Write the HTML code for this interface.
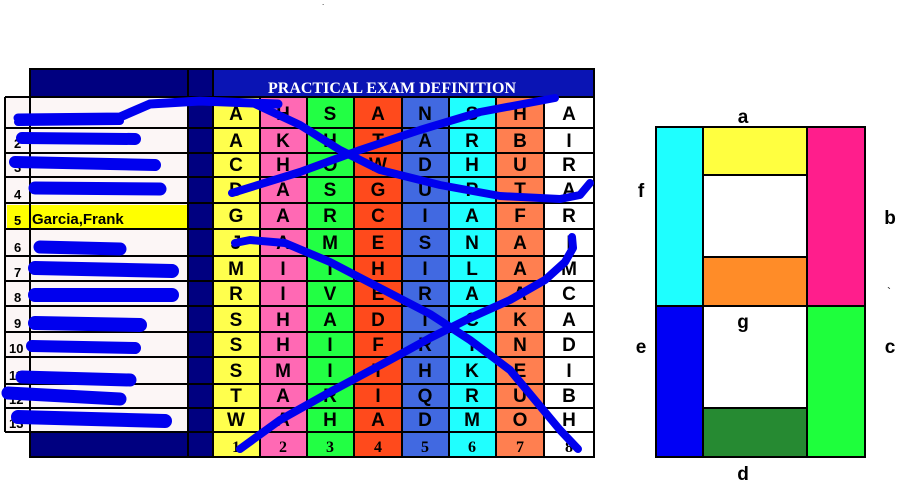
<!DOCTYPE html>
<html><head><meta charset="utf-8"><style>
html,body{margin:0;padding:0;background:#fff;}
svg{display:block;}
.l{font-family:"Liberation Sans",sans-serif;font-weight:bold;font-size:19px;text-anchor:middle;fill:#000;}
.n{font-family:"Liberation Sans",sans-serif;font-weight:bold;font-size:13px;fill:#000;}
.f{font-family:"Liberation Serif",serif;font-weight:bold;font-size:16px;text-anchor:middle;fill:#000;}
.s{font-family:"Liberation Sans",sans-serif;font-weight:bold;font-size:19px;text-anchor:middle;fill:#000;}
</style></head><body>
<svg width="904" height="497" xmlns="http://www.w3.org/2000/svg">
<rect width="904" height="497" fill="#fff"/>
<rect x="30" y="69" width="158" height="28" fill="#000080"/>
<rect x="188" y="69" width="25" height="28" fill="#000080"/>
<rect x="213" y="69" width="381" height="28" fill="#0a14b4"/>
<text x="392" y="93" font-family="Liberation Serif,serif" font-weight="bold" font-size="16" fill="#fff" text-anchor="middle">PRACTICAL EXAM DEFINITION</text>
<rect x="5" y="97" width="183" height="335" fill="#fcf6f6"/>
<rect x="7" y="205" width="181" height="24" fill="#ffff00"/>
<rect x="188" y="97" width="25" height="360" fill="#000080"/>
<rect x="30" y="432" width="158" height="25" fill="#000080"/>
<g>
<rect x="213" y="97" width="47" height="360" fill="#ffff4d"/>
<rect x="260" y="97" width="47" height="360" fill="#ff69b4"/>
<rect x="307" y="97" width="47" height="360" fill="#22ff44"/>
<rect x="354" y="97" width="48" height="360" fill="#ff4a1c"/>
<rect x="402" y="97" width="47" height="360" fill="#4169e1"/>
<rect x="449" y="97" width="47" height="360" fill="#20ffff"/>
<rect x="496" y="97" width="48" height="360" fill="#ff7f50"/>
<rect x="544" y="97" width="50" height="360" fill="#ffffff"/>
</g>
<g stroke="#000" stroke-width="2" fill="none">
<rect x="30" y="69" width="564" height="388"/>
<line x1="188" y1="69" x2="188" y2="457"/>
<line x1="213" y1="69" x2="213" y2="457"/>
<line x1="5" y1="97" x2="594" y2="97"/>
<line x1="5" y1="97" x2="5" y2="432"/>
<line x1="30" y1="97" x2="30" y2="432"/>
<line x1="260" y1="97" x2="260" y2="457"/>
<line x1="307" y1="97" x2="307" y2="457"/>
<line x1="354" y1="97" x2="354" y2="457"/>
<line x1="402" y1="97" x2="402" y2="457"/>
<line x1="449" y1="97" x2="449" y2="457"/>
<line x1="496" y1="97" x2="496" y2="457"/>
<line x1="544" y1="97" x2="544" y2="457"/>
<path d="M5 128H594M5 153H594M5 177H594M5 203H594M5 229H594M5 256H594M5 281H594M5 306H594M5 332H594M5 357H594M5 384H594M5 408H594M5 432H594"/>
</g>
<g class="n">
<text x="14" y="148">2</text><text x="14" y="172">3</text><text x="14" y="199">4</text>
<text x="14" y="225">5</text><text x="14" y="252">6</text><text x="14" y="277">7</text>
<text x="14" y="302">8</text><text x="14" y="328">9</text><text x="9" y="353">10</text>
<text x="9" y="380">11</text><text x="9" y="404">12</text><text x="9" y="428">13</text>
</g>
<text x="32" y="224" font-family="Liberation Sans,sans-serif" font-weight="bold" font-size="15">Garcia,Frank</text>
<g class="l">
<text x="236" y="120">A</text><text x="283" y="120">H</text><text x="330" y="120">S</text><text x="378" y="120">A</text><text x="425" y="120">N</text><text x="472" y="120">S</text><text x="520" y="120">H</text><text x="569" y="120">A</text>
<text x="236" y="147">A</text><text x="283" y="147">K</text><text x="330" y="147">H</text><text x="378" y="147">T</text><text x="425" y="147">A</text><text x="472" y="147">R</text><text x="520" y="147">B</text><text x="569" y="147">I</text>
<text x="236" y="171">C</text><text x="283" y="171">H</text><text x="330" y="171">O</text><text x="378" y="171">W</text><text x="425" y="171">D</text><text x="472" y="171">H</text><text x="520" y="171">U</text><text x="569" y="171">R</text>
<text x="236" y="196">D</text><text x="283" y="196">A</text><text x="330" y="196">S</text><text x="378" y="196">G</text><text x="425" y="196">U</text><text x="472" y="196">P</text><text x="520" y="196">T</text><text x="569" y="196">A</text>
<text x="236" y="222">G</text><text x="283" y="222">A</text><text x="330" y="222">R</text><text x="378" y="222">C</text><text x="425" y="222">I</text><text x="472" y="222">A</text><text x="520" y="222">F</text><text x="569" y="222">R</text>
<text x="236" y="249">J</text><text x="283" y="249">A</text><text x="330" y="249">M</text><text x="378" y="249">E</text><text x="425" y="249">S</text><text x="472" y="249">N</text><text x="520" y="249">A</text><text x="569" y="249">I</text>
<text x="236" y="275">M</text><text x="283" y="275">I</text><text x="330" y="275">T</text><text x="378" y="275">H</text><text x="425" y="275">I</text><text x="472" y="275">L</text><text x="520" y="275">A</text><text x="569" y="275">M</text>
<text x="236" y="300">R</text><text x="283" y="300">I</text><text x="330" y="300">V</text><text x="378" y="300">E</text><text x="425" y="300">R</text><text x="472" y="300">A</text><text x="520" y="300">A</text><text x="569" y="300">C</text>
<text x="236" y="326">S</text><text x="283" y="326">H</text><text x="330" y="326">A</text><text x="378" y="326">D</text><text x="425" y="326">I</text><text x="472" y="326">C</text><text x="520" y="326">K</text><text x="569" y="326">A</text>
<text x="236" y="351">S</text><text x="283" y="351">H</text><text x="330" y="351">I</text><text x="378" y="351">F</text><text x="425" y="351">R</text><text x="472" y="351">I</text><text x="520" y="351">N</text><text x="569" y="351">D</text>
<text x="236" y="377">S</text><text x="283" y="377">M</text><text x="330" y="377">I</text><text x="378" y="377">T</text><text x="425" y="377">H</text><text x="472" y="377">K</text><text x="520" y="377">E</text><text x="569" y="377">I</text>
<text x="236" y="402">T</text><text x="283" y="402">A</text><text x="330" y="402">R</text><text x="378" y="402">I</text><text x="425" y="402">Q</text><text x="472" y="402">R</text><text x="520" y="402">U</text><text x="569" y="402">B</text>
<text x="236" y="426">W</text><text x="283" y="426">A</text><text x="330" y="426">H</text><text x="378" y="426">A</text><text x="425" y="426">D</text><text x="472" y="426">M</text><text x="520" y="426">O</text><text x="569" y="426">H</text>
</g>
<g class="f">
<text x="236" y="452">1</text><text x="283" y="452">2</text><text x="330" y="452">3</text><text x="378" y="452">4</text><text x="425" y="452">5</text><text x="472" y="452">6</text><text x="520" y="452">7</text><text x="569" y="452">8</text>
</g>
<g stroke="#0000ee" stroke-linecap="round" stroke-linejoin="round" fill="none">
<path stroke-width="9" d="M18 118 L120 117 L150 104 L200 101 L278 104"/>
<path stroke-width="8" d="M18 122 L120 121"/>
<path stroke-width="8" d="M255 104 L300 125 L340 150 L380 170 L440 185 L500 196 L560 199 L580 195 L590 183"/>
<path stroke-width="8" d="M232 193 L300 172 L360 150 L420 130 L480 112 L555 98"/>
<path stroke-width="8" d="M235 243 L250 240 L285 243 L330 262 L380 288 L430 314 L470 340 L510 370 L535 400 L560 430 L578 449"/>
<path stroke-width="8" d="M240 449 L280 420 L330 392 L390 360 L430 338 L470 318 L510 300 L545 280 L565 262 L573 248 L572 237"/>
<path stroke-width="12" d="M22 138 L135 139"/>
<path stroke-width="12" d="M15 162 L155 165"/>
<path stroke-width="13" d="M35 188 L160 189"/>
<path stroke-width="13" d="M40 247 L120 249"/>
<path stroke-width="14" d="M35 268 L172 271"/>
<path stroke-width="14" d="M35 295 L172 295"/>
<path stroke-width="14" d="M35 323 L140 325"/>
<path stroke-width="12" d="M32 346 L135 348"/>
<path stroke-width="13" d="M22 377 L130 380"/>
<path stroke-width="13" d="M8 393 L120 399"/>
<path stroke-width="14" d="M18 417 L165 421"/>
</g>
<g stroke="#000" stroke-width="2">
<rect x="656" y="127" width="47" height="179" fill="#1effff"/>
<rect x="656" y="306" width="47" height="151" fill="#0000f5"/>
<rect x="807" y="127" width="58" height="179" fill="#ff1e8c"/>
<rect x="807" y="306" width="58" height="151" fill="#1eff3c"/>
<rect x="703" y="127" width="104" height="48" fill="#ffff40"/>
<rect x="703" y="175" width="104" height="82" fill="#fff"/>
<rect x="703" y="257" width="104" height="49" fill="#ff8c28"/>
<rect x="703" y="306" width="104" height="102" fill="#fff"/>
<rect x="703" y="408" width="104" height="49" fill="#268a32"/>
</g>
<g class="s">
<text x="743" y="123">a</text><text x="890" y="224">b</text><text x="890" y="353">c</text>
<text x="743" y="480">d</text><text x="641" y="353">e</text><text x="641" y="197">f</text>
<text x="743" y="328">g</text>
</g>
<text x="889" y="296" font-family="Liberation Sans,sans-serif" font-size="12" text-anchor="middle">`</text>
<text x="322" y="5" font-family="Liberation Sans,sans-serif" font-size="8">.</text>
</svg>
</body></html>
